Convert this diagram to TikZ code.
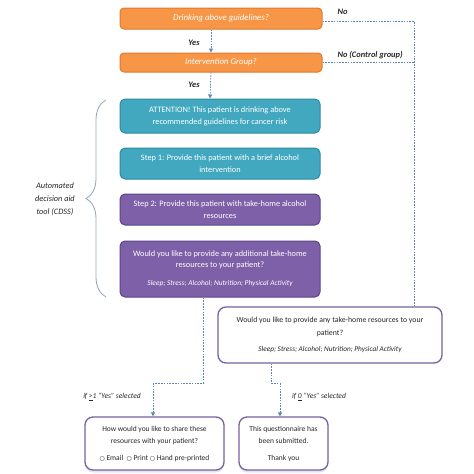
\documentclass[tikz,border=0pt]{standalone}
\usepackage{fontspec}
\setmainfont{Carlito}
\newfontfamily\symfont{DejaVu Sans}
\usetikzlibrary{decorations.pathreplacing,arrows.meta,shadows}

\definecolor{orangefill}{HTML}{F79646}
\definecolor{orangeline}{HTML}{E07A2C}
\definecolor{tealfill}{HTML}{42A8C0}
\definecolor{tealline}{HTML}{2F8AA2}
\definecolor{purplefill}{HTML}{7D60A8}
\definecolor{purpleline}{HTML}{5C4586}
\definecolor{boxline}{HTML}{7762A0}
\definecolor{linkcol}{HTML}{5F86B4}
\definecolor{bracecol}{HTML}{8FA3BE}

\tikzset{
  orangebox/.style={draw=orangeline, fill=orangefill, line width=1pt, rounded corners=4pt,
    minimum width=202pt, text=white, font=\fontsize{8.8}{10}\selectfont\itshape},
  stepbox/.style={draw=#1line, fill=#1fill, line width=1pt, rounded corners=5pt,
    minimum width=200pt, text=white, align=center, font=\fontsize{8.3}{12}\selectfont},
  askbox/.style={draw=boxline, fill=white, line width=1.3pt, rounded corners=8pt,
    align=center, text=black!85, font=\fontsize{7.8}{13}\selectfont},
  dotline/.style={draw=linkcol, line width=0.8pt, dash pattern=on 1.6pt off 1.2pt},
  link/.style={dotline, -{Triangle[width=4pt,length=4pt]}},
  lbl/.style={font=\fontsize{8.4}{10}\selectfont\bfseries\itshape, text=black!85},
  small/.style={font=\fontsize{7.5}{9}\selectfont\itshape, text=black!85}
}

\begin{document}
\begin{tikzpicture}[x=1pt,y=-1pt]
\useasboundingbox (0,0) rectangle (474,474);

\node[orangebox, minimum height=21pt] (drink) at (221,18.5) {Drinking above guidelines?};
\node[orangebox, minimum height=19pt] (interv) at (221,62.5) {Intervention Group?};

\node[stepbox=teal, minimum height=34pt] (attn) at (220,116)
  {ATTENTION! This patient is drinking above\\recommended guidelines for cancer risk};
\node[stepbox=teal, minimum height=31pt] (step1) at (220,163.5)
  {Step 1: Provide this patient with a brief alcohol\\intervention};
\node[stepbox=purple, minimum height=31pt] (step2) at (220,209.5)
  {Step 2: Provide this patient with take-home alcohol\\resources};
\node[stepbox=purple, minimum height=56pt, font=\fontsize{8.3}{10.5}\selectfont] (addl) at (220,269)
  {Would you like to provide any additional take-home\\resources to your patient?\\[8pt]
   {\fontsize{7.4}{8}\selectfont\itshape Sleep; Stress; Alcohol; Nutrition; Physical Activity}};

\node[askbox, minimum width=224pt, minimum height=56pt] (choice) at (330,335)
  {Would you like to provide any take-home resources to your\\patient?\\[3pt]
   {\fontsize{7.3}{8}\selectfont\itshape Sleep; Stress; Alcohol; Nutrition; Physical Activity}};

\node[askbox, minimum width=139pt, minimum height=53pt, font=\fontsize{7.5}{12}\selectfont,
  drop shadow={shadow xshift=0pt, shadow yshift=-2.5pt, fill=boxline!35}] (share) at (154.5,443.5)
  {How would you like to share these\\resources with your patient?\\[5pt]
   {\symfont\fontsize{6}{8}\selectfont○}~Email\ \ {\symfont\fontsize{6}{8}\selectfont○}~Print\
   {\symfont\fontsize{6}{8}\selectfont○}~Hand pre-printed};
\node[askbox, minimum width=89pt, minimum height=53pt, font=\fontsize{7.5}{12}\selectfont,
  drop shadow={shadow xshift=0pt, shadow yshift=-2.5pt, fill=boxline!35}] (done) at (283.5,443.5)
  {This questionnaire has\\been submitted.\\[5pt]Thank you};

% yes / no branches
\draw[link] ([xshift=-10pt]drink.south) -- ([xshift=-10pt]interv.north);
\draw[link] ([xshift=-10pt]interv.south) -- ([xshift=-10pt]attn.north);
\node[lbl] (yes1) at (194,43) {Yes};
\node[lbl] (yes2) at (194,85) {Yes};

\coordinate (nodrink) at (414,21);
\draw[dotline] (drink.east |- nodrink) -- (nodrink) -- (nodrink |- choice.north);
\draw[dotline] (interv.east) -- (interv.east -| nodrink);
\node[lbl, anchor=west] (no1) at (334,12) {No};
\node[lbl, anchor=west] (no2) at (334,55) {No (Control group)};

% split to the last two boxes
\coordinate (jl) at (153,383);
\coordinate (jr) at (280,383);
\draw[dotline] ([xshift=-17pt]addl.south) |- (jl);
\draw[dotline] ([xshift=-59pt]choice.south) |- (jr);
\draw[link] (jl) -- (jl |- share.north);
\draw[link] (jr) -- (jr |- done.north);
\node[small] (ifyes) at (112,397) {if \underline{>}1 “Yes” selected};
\node[small] (ifno) at (319,397) {if \underline{0} “Yes” selected};

% decision aid brace
\draw[bracecol, line width=0.8pt, decorate, decoration={brace, amplitude=20pt}]
  (106,297) -- (106,100);
\node[align=center, font=\fontsize{8.3}{13}\selectfont\itshape, text=black!85] (cdss) at (55,199)
  {Automated\\decision aid\\tool (CDSS)};
\end{tikzpicture}
\end{document}
